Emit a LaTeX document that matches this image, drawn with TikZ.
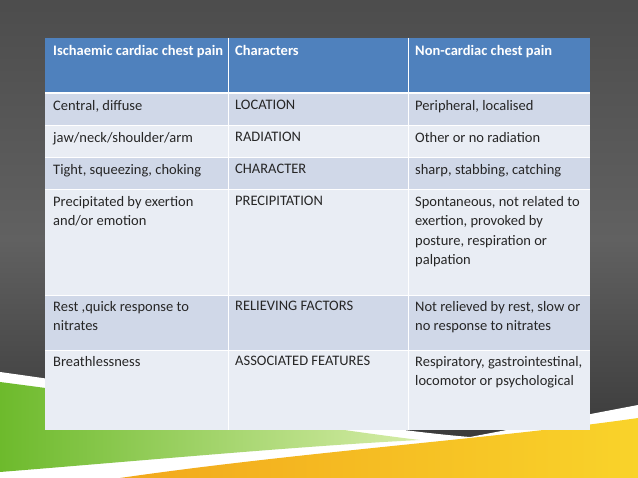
\documentclass[tikz,border=0pt]{standalone}
\usepackage{fontspec}
\setmainfont{Carlito}
\begin{document}
\begin{tikzpicture}[x=1pt,y=-1pt,
  cell/.style={anchor=north west,font=\fontsize{14.5}{19.5}\selectfont,text=black!85,inner sep=0pt,align=left},
  hcell/.style={cell,text=white,font=\bfseries\fontsize{14.5}{19.5}\selectfont}]
\definecolor{hblue}{HTML}{4F81BD}
\definecolor{rowA}{HTML}{D0D8E8}
\definecolor{rowB}{HTML}{E9EDF4}
\definecolor{gA}{HTML}{6DBA2C}
\definecolor{gB}{HTML}{D6EDA8}
\definecolor{yA}{HTML}{F2A81C}
\definecolor{yB}{HTML}{F9D32A}
\useasboundingbox (0,0) rectangle (638,478);
\shade[top color=black!70,bottom color=black!80,middle color=black!62] (0,0) rectangle (638,478);
% swooshes
\fill[white] (0,372) .. controls (200,400) and (380,430) .. (470,437) -- (638,405) -- (638,478) -- (0,478) -- cycle;
\shade[left color=gA,right color=gB] (0,382) .. controls (200,408) and (350,432) .. (420,440) .. controls (300,446) and (150,460) .. (0,472) -- cycle;
\shade[left color=yA,right color=yB] (120,478) .. controls (300,452) and (500,438) .. (638,418) -- (638,478) -- cycle;
% table
\fill[hblue] (45,38) rectangle (590,93);
\draw[white,line width=0.8pt] (228,38) -- (228,93) (408,38) -- (408,93);
\def\rows{93/125/rowA,125/157/rowB,157/189/rowA,189/295/rowB,295/350/rowA,350/430/rowB}
\foreach \a/\b/\c in \rows{
  \fill[\c] (45,\a) rectangle (590,\b);
  \draw[white,line width=0.8pt] (45,\a) -- (590,\a) (228,\a) -- (228,\b) (408,\a) -- (408,\b);
}
\draw[white,line width=2pt] (45,93) -- (590,93);
\node[hcell] (h1) at (53,45) {Ischaemic cardiac chest pain};
\node[hcell] (h2) at (235,45) {Characters};
\node[hcell] (h3) at (415,45) {Non-cardiac chest pain};
\node[cell] (a1) at (53,100) {Central, diffuse};
\node[cell] (b1) at (235,100) {LOCATION};
\node[cell] (c1) at (415,100) {Peripheral, localised};
\node[cell] (a2) at (53,132) {jaw/neck/shoulder/arm};
\node[cell] (b2) at (235,132) {RADIATION};
\node[cell] (c2) at (415,132) {Other or no radiation};
\node[cell] (a3) at (53,164) {Tight, squeezing, choking};
\node[cell] (b3) at (235,164) {CHARACTER};
\node[cell] (c3) at (415,164) {sharp, stabbing, catching};
\node[cell] (a4) at (53,196) {Precipitated by exertion\\and/or emotion};
\node[cell] (b4) at (235,196) {PRECIPITATION};
\node[cell] (c4) at (415,196) {Spontaneous, not related to\\exertion, provoked by\\posture, respiration or\\palpation};
\node[cell] (a5) at (53,301) {Rest ,quick response to\\nitrates};
\node[cell] (b5) at (235,301) {RELIEVING FACTORS};
\node[cell] (c5) at (415,301) {Not relieved by rest, slow or\\no response to nitrates};
\node[cell] (a6) at (53,356) {Breathlessness};
\node[cell] (b6) at (235,356) {ASSOCIATED FEATURES};
\node[cell] (c6) at (415,356) {Respiratory, gastrointestinal,\\locomotor or psychological};
\end{tikzpicture}
\end{document}
